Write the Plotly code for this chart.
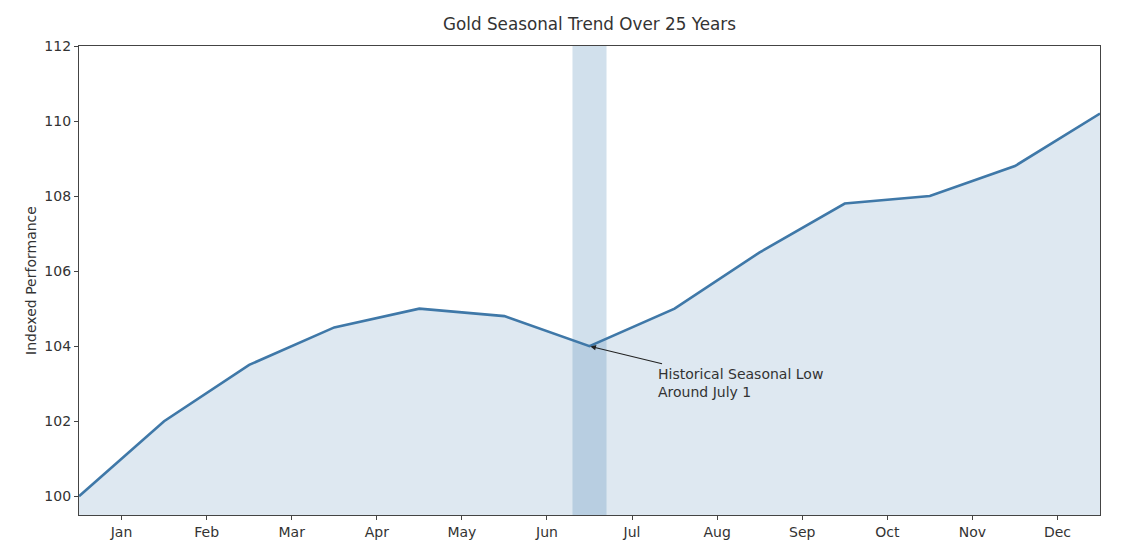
import plotly.graph_objects as go

# Data: month index (0 = Jan 1 ... 12 = Dec 31) and indexed performance
month_pos = [0, 1, 2, 3, 4, 5, 6, 7, 8, 9, 10, 11, 12]
performance = [100.0, 102.0, 103.5, 104.5, 105.0, 104.8, 104.0, 105.0, 106.5, 107.8, 108.0, 108.8, 110.2]
tick_pos = [0.5, 1.5, 2.5, 3.5, 4.5, 5.5, 6.5, 7.5, 8.5, 9.5, 10.5, 11.5]
tick_labels = ["Jan", "Feb", "Mar", "Apr", "May", "Jun", "Jul", "Aug", "Sep", "Oct", "Nov", "Dec"]
band_range = [5.8, 6.2]
low_point = (6, 104.0)
arrow_tail = (6.87, 103.52)
note_pos = (6.78, 103.02)
note_text = "Historical Seasonal Low<br>Around July 1"

font_family = "DejaVu Sans, Liberation Sans, sans-serif"
axis_color = "#444444"

fig = go.Figure()
fig.add_trace(go.Scatter(
    x=month_pos, y=performance, mode="lines",
    line=dict(color="#3f78a8", width=2.6),
    fill="tozeroy", fillcolor="rgba(70,130,180,0.18)",
    hoverinfo="x+y", showlegend=False,
))

fig.add_shape(type="rect", xref="x", yref="paper",
              x0=band_range[0], x1=band_range[1], y0=0, y1=1,
              fillcolor="rgba(70,130,180,0.25)", line=dict(width=0), layer="below")

fig.add_annotation(x=low_point[0], y=low_point[1], ax=arrow_tail[0], ay=arrow_tail[1],
                   axref="x", ayref="y", xref="x", yref="y", text="",
                   showarrow=True, arrowhead=2, arrowsize=1.0, arrowwidth=1.1,
                   arrowcolor="#222222", standoff=1)
fig.add_annotation(x=note_pos[0], y=note_pos[1], xref="x", yref="y",
                   text=note_text, showarrow=False, xanchor="left", yanchor="middle",
                   align="left", font=dict(family=font_family, size=14, color="#333333"))

fig.update_layout(
    width=1135, height=551,
    margin=dict(l=79, r=35, t=46, b=36),
    paper_bgcolor="white", plot_bgcolor="white",
    title=dict(text="Gold Seasonal Trend Over 25 Years", x=0.5, xref="paper", xanchor="center",
               y=1 - 24 / 551, yanchor="middle",
               font=dict(family=font_family, size=16.8, color="#333333")),
    font=dict(family=font_family, size=14, color="#333333"),
    xaxis=dict(range=[0, 12], tickmode="array", tickvals=tick_pos, ticktext=tick_labels,
               showgrid=False, zeroline=False, showline=True, linecolor=axis_color,
               linewidth=1.2, mirror=True, ticks="outside", ticklen=4, tickcolor=axis_color,
               tickfont=dict(size=14)),
    yaxis=dict(range=[99.5, 112], tickmode="array", tickvals=[100, 102, 104, 106, 108, 110, 112],
               showgrid=False, zeroline=False, showline=True, linecolor=axis_color,
               linewidth=1.2, mirror=True, ticks="outside", ticklen=4, tickcolor=axis_color,
               tickfont=dict(size=14),
               title=dict(text="Indexed Performance", font=dict(size=14), standoff=4)),
)

fig.write_html("out.html")
